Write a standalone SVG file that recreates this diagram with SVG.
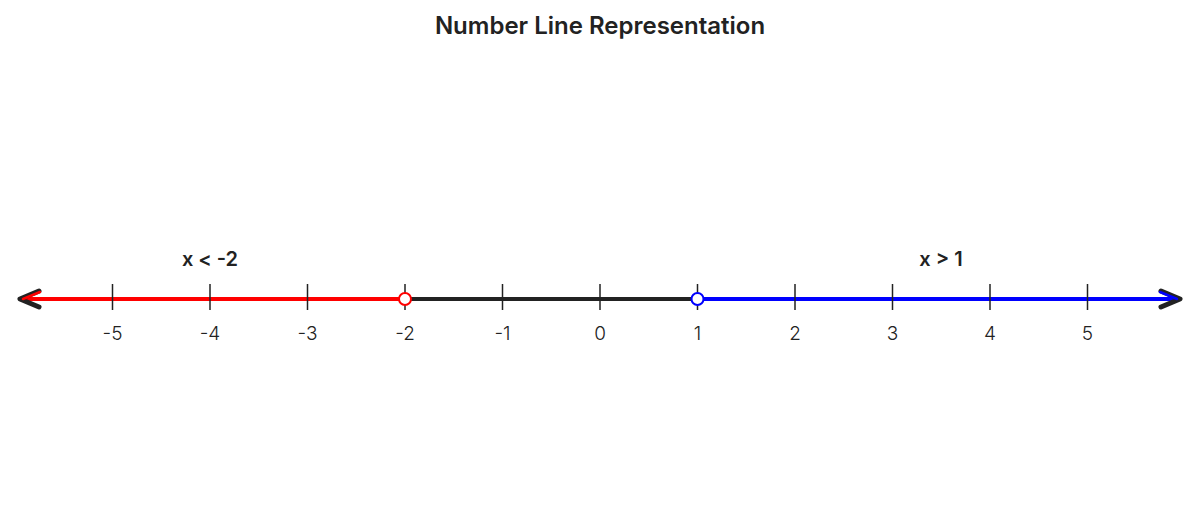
<svg xmlns="http://www.w3.org/2000/svg" width="1200" height="530" viewBox="0 0 1200 530">
<style>
.title{font-family:Inter,"Liberation Sans",sans-serif;font-size:24px;font-weight:600;fill:#222;text-anchor:middle}
.lab{font-family:Inter,"Liberation Sans",sans-serif;font-size:20px;font-weight:600;fill:#222;text-anchor:middle}
.num{font-family:Inter,"Liberation Sans",sans-serif;font-size:19px;font-weight:300;fill:#222;text-anchor:middle}
.tick{stroke:#222;stroke-width:1.5}
.seg{stroke-width:4;fill:none}
.head{fill:none;stroke-linecap:round;stroke-linejoin:round}
</style>
<rect width="1200" height="530" fill="#fff"/>
<text class="title" x="600" y="34">Number Line Representation</text>
<g id="connectors">
<line class="seg" x1="24" y1="299" x2="405" y2="299" stroke="#ff0000"/>
<line class="seg" x1="405" y1="299" x2="698" y2="299" stroke="#222"/>
<line class="seg" x1="698" y1="299" x2="1178" y2="299" stroke="#0000ff"/>
<polyline class="head" points="39,291 20,299 39,307" stroke="#222" stroke-width="5"/>
<polyline class="head" points="40,292 23,299" stroke="#ff0000" stroke-width="2.5"/>
<polyline class="head" points="1161,291 1180,299 1161,307" stroke="#222" stroke-width="5"/>
<polyline class="head" points="1160,292 1177,299" stroke="#0000ff" stroke-width="2.5"/>
</g>
<g id="ticks">
<line class="tick" x1="112.5" y1="284" x2="112.5" y2="310"/>
<line class="tick" x1="210" y1="284" x2="210" y2="310"/>
<line class="tick" x1="307.5" y1="284" x2="307.5" y2="310"/>
<line class="tick" x1="405" y1="284" x2="405" y2="310"/>
<line class="tick" x1="502.5" y1="284" x2="502.5" y2="310"/>
<line class="tick" x1="600" y1="284" x2="600" y2="310"/>
<line class="tick" x1="697.5" y1="284" x2="697.5" y2="310"/>
<line class="tick" x1="795" y1="284" x2="795" y2="310"/>
<line class="tick" x1="892.5" y1="284" x2="892.5" y2="310"/>
<line class="tick" x1="990" y1="284" x2="990" y2="310"/>
<line class="tick" x1="1087.5" y1="284" x2="1087.5" y2="310"/>
</g>
<g id="numbers">
<text class="num" x="112.5" y="340">-5</text>
<text class="num" x="210" y="340">-4</text>
<text class="num" x="307.5" y="340">-3</text>
<text class="num" x="405" y="340">-2</text>
<text class="num" x="502.5" y="340">-1</text>
<text class="num" x="600" y="340">0</text>
<text class="num" x="697.5" y="340">1</text>
<text class="num" x="795" y="340">2</text>
<text class="num" x="892.5" y="340">3</text>
<text class="num" x="990" y="340">4</text>
<text class="num" x="1087.5" y="340">5</text>
</g>
<g id="open-left">
<circle cx="405" cy="299" r="6" fill="#fff" stroke="#ff0000" stroke-width="2"/>
</g>
<g id="open-right">
<circle cx="697.5" cy="299" r="6" fill="#fff" stroke="#0000ff" stroke-width="2"/>
</g>
<g id="label-left"><text class="lab" x="210" y="266">x &lt; -2</text></g>
<g id="label-right"><text class="lab" x="941" y="266">x &gt; 1</text></g>
</svg>
